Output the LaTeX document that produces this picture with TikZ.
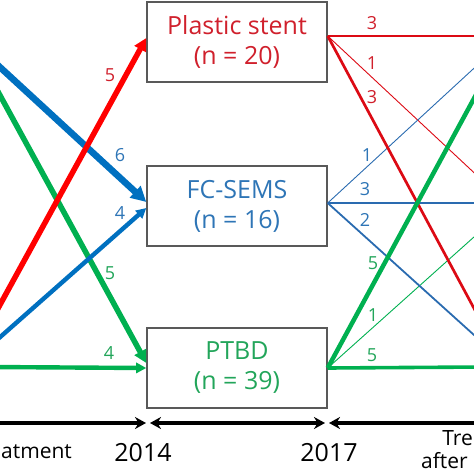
\documentclass[tikz,border=0pt]{standalone}
\usepackage{fontspec}
\setmainfont{Open Sans}
\usepackage{tikz}
\usetikzlibrary{arrows.meta,positioning}
\definecolor{redline}{HTML}{FF0000}
\definecolor{redout}{HTML}{DC0A14}
\definecolor{redtxt}{HTML}{D0202C}
\definecolor{blueline}{HTML}{0070C0}
\definecolor{blueout}{HTML}{2A6BB0}
\definecolor{bluetxt}{HTML}{2E75B6}
\definecolor{greenline}{HTML}{00B050}
\definecolor{greentxt}{HTML}{22A55A}
\definecolor{boxgray}{HTML}{595959}

\begin{document}
\begin{tikzpicture}[x=1pt,y=-1pt,
    box/.style={draw=boxgray, line width=1.4pt, minimum width=180pt, minimum height=80pt,
                inner sep=0pt, align=center, font=\fontsize{25}{30}\selectfont},
    cnt/.style={inner sep=0pt, font=\fontsize{18}{18}\selectfont},
    inflow/.style={line width=#1*1.1pt, -{Triangle[length=0pt 2.3, width=0pt 2.3]}},
    outflow/.style={line width=#1*0.9pt},
    tline/.style={line width=3.5pt, black},
    yr/.style={inner sep=0pt, font=\fontsize{25}{30}\selectfont},
    side/.style={inner sep=0pt, font=\fontsize{21}{25}\selectfont}]

    % frame of the picture
    \useasboundingbox (0,0) rectangle (474,474);
    \clip (0,0) rectangle (474,474);

    % Treatment boxes (2014 - 2017)
    \node[box, text=redtxt] (plastic) at (237,42) {Plastic stent\\(n = 20)};
    \node[box, text=bluetxt] (fcsems) at (237,206) {FC-SEMS\\(n = 16)};
    \node[box, text=greentxt] (ptbd) at (237,368) {PTBD\\(n = 39)};

    % Flows coming in (they start past the left edge)
    \coordinate (inR) at (-10,323);
    \coordinate (inB1) at (-10,58);
    \coordinate (inB2) at (-10,346);
    \coordinate (inG1) at (-10,77);
    \coordinate (inG2) at (-10,367);

    \draw[inflow=5, greenline] (inG1) -- ([yshift=5pt]ptbd.west);
    \draw[inflow=4, greenline] (inG2) -- (ptbd.west);
    \draw[inflow=4, blueline] (inB2) -- ([yshift=-2pt]fcsems.west);
    \draw[inflow=6, blueline] (inB1) -- ([yshift=4pt]fcsems.west);
    \draw[inflow=5, redline] (inR) -- ([yshift=4pt]plastic.west);

    \node[cnt, text=redtxt] (nR) at (110,75) {5};
    \node[cnt, text=bluetxt] (nB1) at (120,155) {6};
    \node[cnt, text=bluetxt] (nB2) at (120,213) {4};
    \node[cnt, text=greentxt] (nG1) at (110,273) {5};
    \node[cnt, text=greentxt] (nG2) at (109,353) {4};

    % Flows going out (they run past the right edge)
    \coordinate (oR1) at (484,36);
    \coordinate (oR2) at (484,182);
    \coordinate (oR3) at (484,327);
    \coordinate (oB1) at (484,59);
    \coordinate (oB2) at (484,203);
    \coordinate (oB3) at (484,344);
    \coordinate (oG1) at (484,80);
    \coordinate (oG2) at (484,228);
    \coordinate (oG3) at (484,367);

    \draw[outflow=1, redout] ([yshift=6pt]plastic.east) -- (oR2);
    \draw[outflow=1, blueout] ([yshift=3pt]fcsems.east) -- (oB1);
    \draw[outflow=1, greenline] (ptbd.east) -- (oG2);
    \draw[outflow=2, blueout] ([yshift=3pt]fcsems.east) -- (oB3);
    \draw[outflow=3, redout] ([yshift=6pt]plastic.east) -- (oR1);
    \draw[outflow=3, redout] ([yshift=6pt]plastic.east) -- (oR3);
    \draw[outflow=3, blueout] ([yshift=3pt]fcsems.east) -- (oB2);
    \draw[outflow=5, greenline] (ptbd.east) -- (oG1);
    \draw[outflow=4, greenline] (ptbd.east) -- (oG3);

    \node[cnt, text=redtxt] (mR1) at (372,23) {3};
    \node[cnt, text=redtxt] (mR2) at (372,63) {1};
    \node[cnt, text=redtxt] (mR3) at (372,97) {3};
    \node[cnt, text=bluetxt] (mB1) at (367,155) {1};
    \node[cnt, text=bluetxt] (mB2) at (365,189) {3};
    \node[cnt, text=bluetxt] (mB3) at (365,220) {2};
    \node[cnt, text=greentxt] (mG1) at (373,263) {5};
    \node[cnt, text=greentxt] (mG2) at (373,315) {1};
    \node[cnt, text=greentxt] (mG3) at (372,355) {5};

    % Time line
    \coordinate (t0) at (-5,423);
    \coordinate (t1) at (146,423);
    \coordinate (t2) at (150,423);
    \coordinate (t3) at (325,423);
    \coordinate (t4) at (329,423);
    \coordinate (t5) at (484,423);
    \draw[tline, -{Stealth[length=11pt, width=12pt]}] (t0) -- (t1);
    \draw[tline, {Stealth[length=11pt, width=12pt]}-{Stealth[length=11pt, width=12pt]}] (t2) -- (t3);
    \draw[tline, -{Stealth[length=11pt, width=12pt]}] (t5) -- (t4);

    \node[yr, anchor=base] (y2014) at (143,461) {2014};
    \node[yr, anchor=base] (y2017) at (329,461) {2017};
    \node[side, anchor=base west] (before) at (1,458) {atment};
    \node[side, anchor=base east] (after1) at (473,445) {Tre};
    \node[side, anchor=base west] (after2) at (421,468) {after};

\end{tikzpicture}
\end{document}
